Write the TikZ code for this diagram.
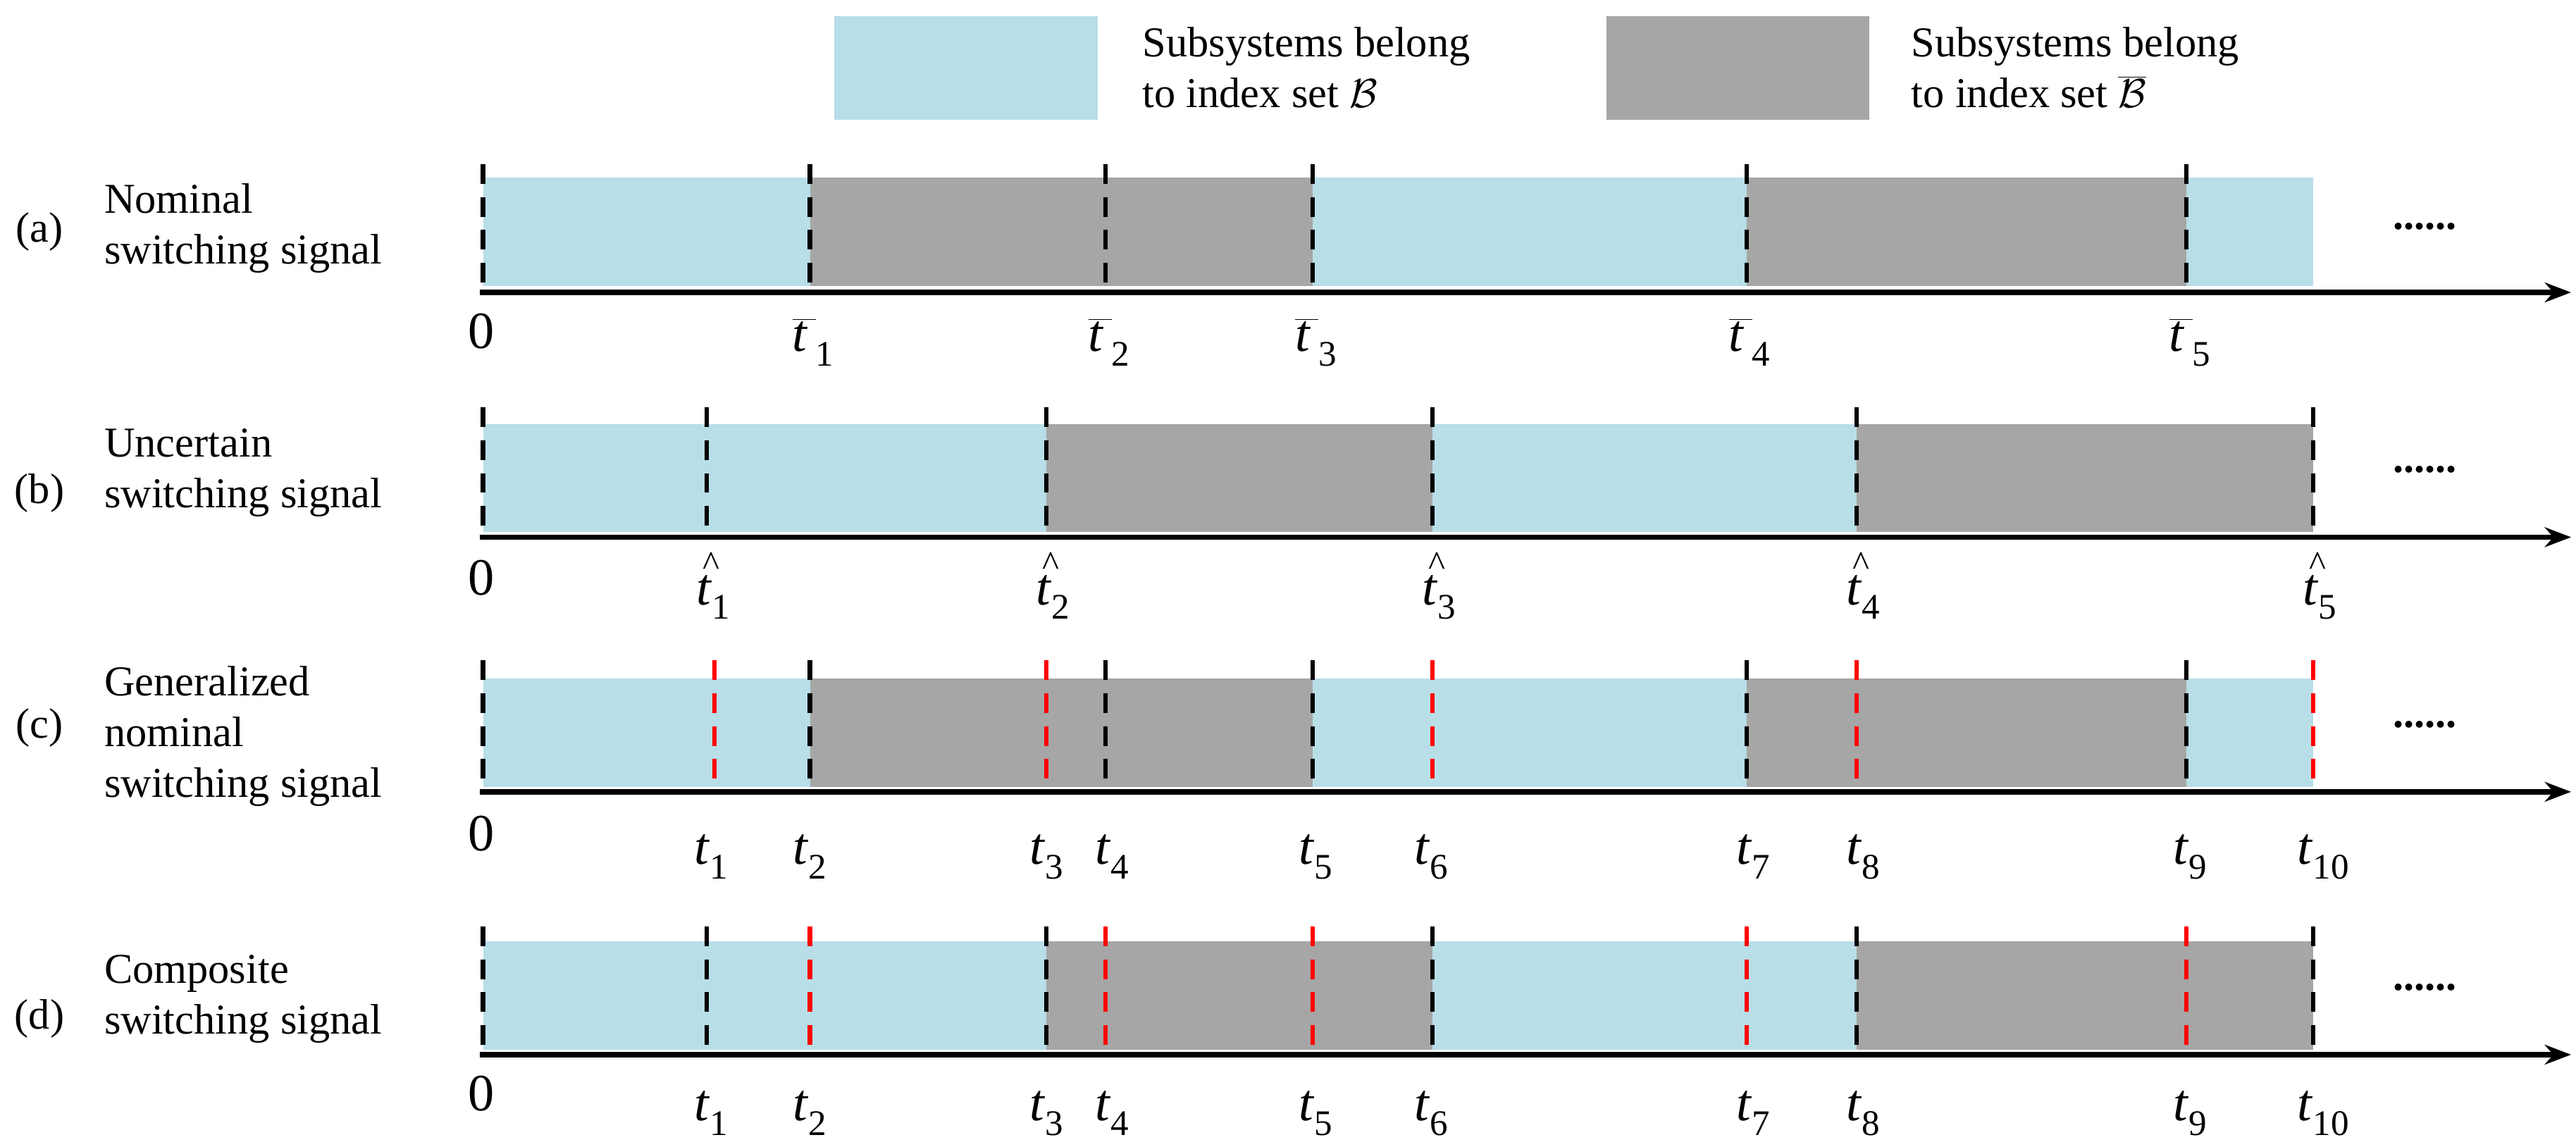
\documentclass[tikz,border=0pt]{standalone}
\usepackage{fontspec}
\setmainfont{Liberation Serif}
\newfontfamily\tms{Liberation Serif}
\usetikzlibrary{arrows.meta}
\definecolor{lb}{HTML}{B8DEE8}
\definecolor{gr}{HTML}{A6A6A6}
\newcommand\mysub[1]{\raisebox{-0.28em}{\fontsize{22}{22}\selectfont #1}}
\newcommand\tn[1]{\textit{t}\mysub{#1}}
\newcommand\tbar[1]{$\overline{\hbox{\tms\itshape t\,}}$\mysub{#1}}
\newcommand\that[1]{\raisebox{0.55em}[0pt][0pt]{\rlap{\hspace{0.12em}\fontsize{22}{22}\selectfont\^{}}}\textit{t}\mysub{#1}}
\begin{document}
\begin{tikzpicture}[x=1bp,y=-1bp,font=\tms,
  blk/.style={line width=2.6bp,dash pattern=on 12bp off 8bp},
  rd/.style={blk,red},
  ax/.style={line width=3.2bp,-{Stealth[length=16bp,width=12bp]}},
  lab/.style={font=\tms\fontsize{26}{31}\selectfont,align=left,anchor=west},
  pl/.style={font=\tms\fontsize{26}{26}\selectfont},
  tk/.style={font=\tms\fontsize{32}{32}\selectfont,anchor=base},
  dots/.style={font=\tms\fontsize{26}{26}\selectfont\bfseries}]
\useasboundingbox (0,0) rectangle (1568,698);
% legend
\fill[lb] (508,10) rectangle (668,73);
\fill[gr] (978,10) rectangle (1138,73);
\node[lab] (l1) at (692,41) {Subsystems belong\\to index set $\mathcal{B}$};
\node[lab] (l2) at (1160,41) {Subsystems belong\\to index set $\overline{\mathcal{B}}$};
% row a
\fill[lb] (294,108) rectangle (493,174); \fill[gr] (493,108) rectangle (799,174);
\fill[lb] (799,108) rectangle (1063,174); \fill[gr] (1063,108) rectangle (1331,174);
\fill[lb] (1331,108) rectangle (1408,174);
\foreach \x in {294,493,673,799,1063,1331} \draw[blk] (\x,100) -- (\x,174);
\coordinate (a0) at (292,178); \coordinate (a1) at (1565,178);
\draw[ax] (a0) -- (a1);
\node[dots] (da) at (1476,138) {......};
\node[lab] (na) at (60,139) {Nominal\\switching signal};
\node[pl] (pa) at (24,141) {(a)};
\node[tk] at (293,212) {0};
\foreach \x/\i in {493/1,673/2,799/3,1063/4,1331/5} \node[tk] at (\x+2,214) {\tbar{\i}};
% row b
\fill[lb] (294,258) rectangle (637,324); \fill[gr] (637,258) rectangle (872,324);
\fill[lb] (872,258) rectangle (1130,324); \fill[gr] (1130,258) rectangle (1408,324);
\foreach \x in {294,430,637,872,1130,1408} \draw[blk] (\x,248) -- (\x,324);
\coordinate (b0) at (292,327); \coordinate (b1) at (1565,327);
\draw[ax] (b0) -- (b1);
\node[dots] (db) at (1476,286) {......};
\node[lab] (nb) at (60,288) {Uncertain\\switching signal};
\node[pl] (pb) at (24,300) {(b)};
\node[tk] at (293,362) {0};
\foreach \x/\i in {430/1,637/2,872/3,1130/4,1408/5} \node[tk] at (\x+4,368) {\that{\i}};
% row c
\fill[lb] (294,413) rectangle (493,479); \fill[gr] (493,413) rectangle (799,479);
\fill[lb] (799,413) rectangle (1063,479); \fill[gr] (1063,413) rectangle (1331,479);
\fill[lb] (1331,413) rectangle (1408,479);
\foreach \x in {294,493,673,799,1063,1331} \draw[blk] (\x,402) -- (\x,479);
\foreach \x in {435,637,872,1130,1408} \draw[rd] (\x,402) -- (\x,479);
\coordinate (c0) at (292,482); \coordinate (c1) at (1565,482);
\draw[ax] (c0) -- (c1);
\node[dots] (dc) at (1476,441) {......};
\node[lab] (nc) at (60,448) {Generalized\\nominal\\switching signal};
\node[pl] (pc) at (24,443) {(c)};
\node[tk] at (293,518) {0};
\foreach \x/\i in {433/1,493/2,637/3,677/4,801/5,871/6,1067/7,1134/8,1333/9,1414/10} \node[tk] at (\x,526) {\tn{\i}};
% row d
\fill[lb] (294,573) rectangle (637,639); \fill[gr] (637,573) rectangle (872,639);
\fill[lb] (872,573) rectangle (1130,639); \fill[gr] (1130,573) rectangle (1408,639);
\foreach \x in {294,430,637,872,1130,1408} \draw[blk] (\x,564) -- (\x,639);
\foreach \x in {493,673,799,1063,1331} \draw[rd] (\x,564) -- (\x,639);
\coordinate (d0) at (292,642); \coordinate (d1) at (1565,642);
\draw[ax] (d0) -- (d1);
\node[dots] (dd) at (1476,601) {......};
\node[lab] (nd) at (60,608) {Composite\\switching signal};
\node[pl] (pd) at (24,620) {(d)};
\node[tk] at (293,676) {0};
\foreach \x/\i in {433/1,493/2,637/3,677/4,801/5,871/6,1067/7,1134/8,1333/9,1414/10} \node[tk] at (\x,682) {\tn{\i}};
\end{tikzpicture}
\end{document}
